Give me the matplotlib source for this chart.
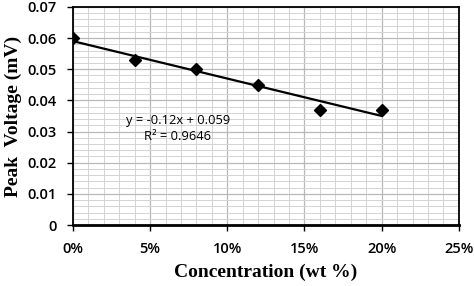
import numpy as np
import matplotlib.pyplot as plt
from matplotlib.ticker import MultipleLocator, FuncFormatter

conc = [0.00, 0.04, 0.08, 0.12, 0.16, 0.20]
voltage = [0.060, 0.053, 0.050, 0.045, 0.037, 0.037]
slope = -0.12
intercept = 0.059

fig = plt.figure(figsize=(4.74, 2.86), dpi=100)
ax = fig.add_axes([0.154, 0.213, 0.814, 0.763])

ax.set_xlim(0, 0.25)
ax.set_ylim(0, 0.07)
ax.xaxis.set_major_locator(MultipleLocator(0.05))
ax.xaxis.set_minor_locator(MultipleLocator(0.01))
ax.yaxis.set_major_locator(MultipleLocator(0.01))
ax.yaxis.set_minor_locator(MultipleLocator(0.002))
ax.xaxis.set_major_formatter(FuncFormatter(lambda v, p: f'{v*100:.0f}%'))
ax.yaxis.set_major_formatter(FuncFormatter(lambda v, p: '0' if abs(v) < 1e-9 else f'{v:.2f}'))

ax.grid(which='major', color='#b8b8b8', linewidth=0.9)
ax.grid(which='minor', color='#d4d4d4', linewidth=0.7)
ax.set_axisbelow(True)

xf = np.array([conc[0], conc[-1]])
ax.plot(xf, slope * xf + intercept, color='black', linewidth=1.6, zorder=3)
ax.plot(conc, voltage, linestyle='none', marker='D', markersize=6.5,
        color='black', zorder=4)

ax.text(0.068, 0.0337, 'y = -0.12x + 0.059', ha='center', va='center',
        fontsize=9.3, family='Open Sans')
ax.text(0.068, 0.0284, 'R² = 0.9646', ha='center', va='center',
        fontsize=9.3, family='Open Sans')

for s in ax.spines.values():
    s.set_linewidth(1.3)
ax.spines['bottom'].set_linewidth(2.0)

ax.tick_params(which='minor', length=0)
ax.tick_params(which='major', direction='out', length=4, width=1, pad=8)
for lab in ax.get_xticklabels() + ax.get_yticklabels():
    lab.set_family('Open Sans')
    lab.set_fontsize(10.5)
    lab.set_fontweight('semibold')

ax.set_xlabel('Concentration (wt %)', family='Liberation Serif',
              fontweight='bold', fontsize=14, labelpad=6)
ax.set_ylabel('Peak  Voltage (mV)', family='Liberation Serif',
              fontweight='bold', fontsize=14, labelpad=4)

fig.savefig('out.png', dpi=100)
